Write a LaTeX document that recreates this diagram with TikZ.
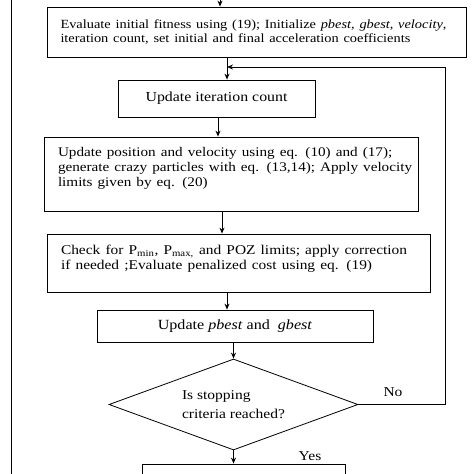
\documentclass[tikz,border=0pt]{standalone}
\usepackage{graphicx}
\usepackage{fontspec}
\setmainfont{Liberation Serif}
\usetikzlibrary{arrows.meta, positioning, shapes.geometric, calc}
\newcommand{\wide}[1]{\scalebox{1.15}[1]{#1}}

\begin{document}
\begin{tikzpicture}[
  x=1pt, y=-1pt,
  box/.style={draw, line width=0.8pt, inner sep=0pt},
  textbox/.style={box, align=left},
  decision/.style={draw, diamond, line width=0.8pt, inner sep=0pt, aspect=2.74,
                   align=left, minimum width=249pt, minimum height=91pt},
  arr/.style={-{Stealth[length=6pt, width=5pt]}, line width=1pt},
  frame/.style={line width=0.8pt},
  tag/.style={font=\fontsize{13.5}{16}\selectfont}
]
  \useasboundingbox (0,0) rectangle (474,474);

  %% Process boxes
  \node[textbox, minimum width=419pt, minimum height=50pt, text width=392pt,
        font=\fontsize{12.5}{13.5}\selectfont] (eval) at (256.5, 32)
    {\wide{Evaluate initial fitness using (19); Initialize \textit{pbest, gbest, velocity},}\\
     \wide{iteration count, set initial and final acceleration coefficients}};
  \node[box, minimum width=197pt, minimum height=37pt,
        font=\fontsize{13.8}{16}\selectfont] (iter) at (216.5, 98.5)
    {\wide{Update iteration count}};
  \node[textbox, minimum width=374pt, minimum height=74pt, text width=346pt,
        font=\fontsize{13.2}{15}\selectfont] (move) at (231, 174)
    {\wide{Update position and velocity using eq. (10) and (17);}\\
     \wide{generate crazy particles with eq. (13,14); Apply velocity}\\
     \wide{limits given by eq. (20)}\\ \mbox{}};
  \node[textbox, minimum width=383pt, minimum height=58pt, text width=355pt,
        font=\fontsize{13.4}{15}\selectfont] (check) at (238.5, 263)
    {\wide{Check for P\textsubscript{min}, P\textsubscript{max,} and POZ limits; apply correction}\\
     \wide{if needed ;Evaluate penalized cost using eq. (19)}\\[-4pt] \mbox{}};
  \node[box, minimum width=276pt, minimum height=32pt,
        font=\fontsize{14}{16}\selectfont] (update) at (235, 326)
    {\wide{Update \textit{pbest} and \ \textit{gbest}}};
  \node[decision, font=\fontsize{13.5}{18.5}\selectfont] (test) at (233.5, 404.5)
    {\wide{Is stopping}\\ \wide{criteria reached?}};
  \node[box, minimum width=203pt, minimum height=30pt] (final) at (243.5, 479) {};

  %% Free ends
  \coordinate (entry)    at (220, 0);
  \coordinate (back)     at (445, 67);
  \coordinate (merge)    at (227, 67);
  \coordinate (frametop) at (11, 0);
  \coordinate (framebot) at (11, 474);

  %% Arrows
  \draw[frame] (frametop) -- (framebot);
  \draw[arr] (entry) -- (entry |- eval.north);
  \draw[arr] (merge |- eval.south) -- (merge |- iter.north);
  \draw[arr] ([xshift=1.5pt]iter.south) -- ([xshift=1.5pt]iter.south |- move.north);
  \draw[arr] ([xshift=-9pt]move.south) -- ([xshift=-9pt]move.south |- check.north);
  \draw[arr] ([xshift=-11.5pt]check.south) -- ([xshift=-11.5pt]check.south |- update.north);
  \draw[arr] (update.south -| test.north) -- (test.north);
  \draw[arr] (test.south) -- (test.south |- final.north);
  \draw[arr] (test.east) -| (back) -- (merge);

  %% Branch labels
  \node[tag] (no)  at (393, 392) {\wide{No}};
  \node[tag] (yes) at (310, 456) {\wide{Yes}};
\end{tikzpicture}
\end{document}
